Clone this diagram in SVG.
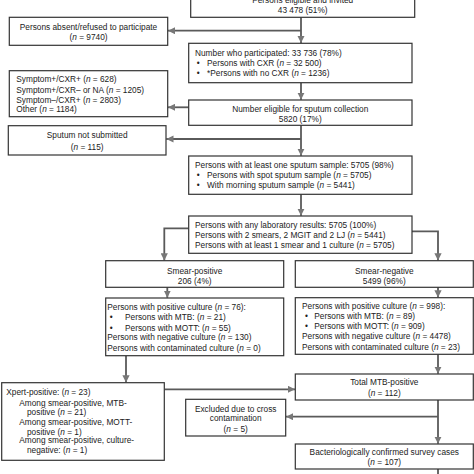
<svg xmlns="http://www.w3.org/2000/svg" width="474" height="474" viewBox="0 0 474 474">
<defs>
<style>
.box{fill:#fff;stroke:#333;stroke-width:1.2}
.t{font-family:"Liberation Sans",Arial,sans-serif;font-size:8.3px;fill:#222}
.c{text-anchor:middle}
.ln{fill:none;stroke:#5a5a5a;stroke-width:1.8}
</style>
<marker id="ah" viewBox="0 0 6 6" refX="6" refY="3" markerWidth="4" markerHeight="4" orient="auto">
<path d="M0,0 L6,3 L0,6 z" fill="#777"/>
</marker>
</defs>
<rect width="474" height="474" fill="#fff"/>
<g id="connectors">
<path class="ln" d="M301,17.3 V43" marker-end="url(#ah)"/>
<path class="ln" d="M301,30.7 H168" marker-end="url(#ah)"/>
<path class="ln" d="M301,82.7 V99.7" marker-end="url(#ah)"/>
<path class="ln" d="M188.7,107.3 H168" marker-end="url(#ah)"/>
<path class="ln" d="M301,125.3 V155.7" marker-end="url(#ah)"/>
<path class="ln" d="M301,139 H166.3" marker-end="url(#ah)"/>
<path class="ln" d="M301,194.3 V215.7" marker-end="url(#ah)"/>
<path class="ln" d="M188.7,228.3 H164.3 V260.5" marker-end="url(#ah)"/>
<path class="ln" d="M412,231.3 H438 V260.5" marker-end="url(#ah)"/>
<path class="ln" d="M167.3,287.3 V297.7" marker-end="url(#ah)"/>
<path class="ln" d="M438,287.3 V297.5" marker-end="url(#ah)"/>
<path class="ln" d="M126,355.7 V382.5" marker-end="url(#ah)"/>
<path class="ln" d="M438,354.3 V373.8" marker-end="url(#ah)"/>
<path class="ln" d="M164.3,389.3 H295" marker-end="url(#ah)"/>
<path class="ln" d="M438,400 V443.8" marker-end="url(#ah)"/>
<path class="ln" d="M438,416.7 H286" marker-end="url(#ah)"/>
<path class="ln" d="M438,469 V474"/>
</g>
<g id="n-eligible">
<rect class="box" x="190.7" y="-20" width="224" height="37.3"/>
<text class="t c" x="302.7" y="2.5">Persons eligible and invited</text>
<text class="t c" x="302.7" y="12.5">43 478 (51%)</text>
</g>
<g id="n-absent">
<rect class="box" x="9.3" y="17.3" width="158.4" height="28"/>
<text class="t c" x="88.5" y="29.5">Persons absent/refused to participate</text>
<text class="t c" x="88.5" y="39.5">(<tspan font-style="italic">n</tspan> = 9740)</text>
</g>
<g id="n-participated">
<rect class="box" x="188.7" y="43.3" width="223.3" height="39.4"/>
<text class="t" x="195" y="55.6">Number who participated: 33 736 (78%)</text>
<text class="t" x="196.7" y="66">•</text>
<text class="t" x="207" y="66">Persons with CXR (<tspan font-style="italic">n</tspan> = 32 500)</text>
<text class="t" x="196.7" y="76.3">•</text>
<text class="t" x="207" y="76.3">*Persons with no CXR (<tspan font-style="italic">n</tspan> = 1236)</text>
</g>
<g id="n-symptom">
<rect class="box" x="9.3" y="70.7" width="158.4" height="46"/>
<text class="t" x="16.3" y="82">Symptom+/CXR+ (<tspan font-style="italic">n</tspan> = 628)</text>
<text class="t" x="16.3" y="92.6">Symptom+/CXR– or NA (<tspan font-style="italic">n</tspan> = 1205)</text>
<text class="t" x="16.3" y="102.6">Symptom–/CXR+ (<tspan font-style="italic">n</tspan> = 2803)</text>
<text class="t" x="16.3" y="112.3">Other (<tspan font-style="italic">n</tspan> = 1184)</text>
</g>
<g id="n-sputum-eligible">
<rect class="box" x="188.7" y="100" width="223.3" height="25.3"/>
<text class="t c" x="300.3" y="112">Number eligible for sputum collection</text>
<text class="t c" x="300.3" y="122.3">5820 (17%)</text>
</g>
<g id="n-not-submitted">
<rect class="box" x="8.3" y="125.7" width="157.7" height="29.3"/>
<text class="t c" x="87.2" y="138">Sputum not submitted</text>
<text class="t c" x="87.2" y="149.7">(<tspan font-style="italic">n</tspan> = 115)</text>
</g>
<g id="n-sample">
<rect class="box" x="188.7" y="156" width="223.3" height="38.3"/>
<text class="t" x="195" y="168">Persons with at least one sputum sample: 5705 (98%)</text>
<text class="t" x="196.7" y="178">•</text>
<text class="t" x="207" y="178">Persons with spot sputum sample (<tspan font-style="italic">n</tspan> = 5705)</text>
<text class="t" x="196.7" y="188">•</text>
<text class="t" x="207" y="188">With morning sputum sample (<tspan font-style="italic">n</tspan> = 5441)</text>
</g>
<g id="n-lab">
<rect class="box" x="188.7" y="216" width="223.3" height="37.3"/>
<text class="t" x="195" y="228.3">Persons with any laboratory results: 5705 (100%)</text>
<text class="t" x="195" y="238">Persons with 2 smears, 2 MGIT and 2 LJ (<tspan font-style="italic">n</tspan> = 5441)</text>
<text class="t" x="195" y="248">Persons with at least 1 smear and 1 culture (<tspan font-style="italic">n</tspan> = 5705)</text>
</g>
<g id="n-smear-pos">
<rect class="box" x="105.7" y="260.7" width="178" height="26.6"/>
<text class="t c" x="194.7" y="273.7">Smear-positive</text>
<text class="t c" x="194.7" y="283.7">206 (4%)</text>
</g>
<g id="n-smear-neg">
<rect class="box" x="295.3" y="260.7" width="178" height="26.6"/>
<text class="t c" x="384.3" y="273.7">Smear-negative</text>
<text class="t c" x="384.3" y="283.7">5499 (96%)</text>
</g>
<g id="n-pos-culture">
<rect class="box" x="105.7" y="298" width="178" height="57.7"/>
<text class="t" x="107.3" y="310.3">Persons with positive culture (<tspan font-style="italic">n</tspan> = 76):</text>
<text class="t" x="109.7" y="320.3">•</text>
<text class="t" x="125" y="320.3">Persons with MTB: (<tspan font-style="italic">n</tspan> = 21)</text>
<text class="t" x="109.7" y="331">•</text>
<text class="t" x="125" y="331">Persons with MOTT: (<tspan font-style="italic">n</tspan> = 55)</text>
<text class="t" x="107.3" y="340.3">Persons with negative culture (<tspan font-style="italic">n</tspan> = 130)</text>
<text class="t" x="107.3" y="351.3">Persons with contaminated culture (<tspan font-style="italic">n</tspan> = 0)</text>
</g>
<g id="n-neg-culture">
<rect class="box" x="295.3" y="297.7" width="178" height="56.6"/>
<text class="t" x="302" y="308.7">Persons with positive culture (<tspan font-style="italic">n</tspan> = 998):</text>
<text class="t" x="305" y="319">•</text>
<text class="t" x="314.3" y="319">Persons with MTB: (<tspan font-style="italic">n</tspan> = 89)</text>
<text class="t" x="305" y="328.7">•</text>
<text class="t" x="314.3" y="328.7">Persons with MOTT: (<tspan font-style="italic">n</tspan> = 909)</text>
<text class="t" x="302" y="339">Persons with negative culture (<tspan font-style="italic">n</tspan> = 4478)</text>
<text class="t" x="302" y="349.7">Persons with contaminated culture (<tspan font-style="italic">n</tspan> = 23)</text>
</g>
<g id="n-xpert">
<rect class="box" x="1.7" y="382.7" width="162.6" height="77.6"/>
<text class="t" x="6.3" y="395">Xpert-positive: (<tspan font-style="italic">n</tspan> = 23)</text>
<text class="t" x="19.3" y="405.7">Among smear-positive, MTB-</text>
<text class="t" x="27" y="415.3">positive (<tspan font-style="italic">n</tspan> = 21)</text>
<text class="t" x="19.3" y="425.3">Among smear-positive, MOTT-</text>
<text class="t" x="27" y="434.7">positive (<tspan font-style="italic">n</tspan> = 1)</text>
<text class="t" x="19.3" y="443.3">Among smear-positive, culture-</text>
<text class="t" x="27" y="453.3">negative: (<tspan font-style="italic">n</tspan> = 1)</text>
</g>
<g id="n-total-mtb">
<rect class="box" x="295.3" y="374" width="178" height="26"/>
<text class="t c" x="384.3" y="385.3">Total MTB-positive</text>
<text class="t c" x="384.3" y="396.3">(<tspan font-style="italic">n</tspan> = 112)</text>
</g>
<g id="n-excluded">
<rect class="box" x="185.7" y="399.3" width="100" height="36.7"/>
<text class="t c" x="235.7" y="411.7">Excluded due to cross</text>
<text class="t c" x="235.7" y="421.3">contamination</text>
<text class="t c" x="235.7" y="432.3">(<tspan font-style="italic">n</tspan> = 5)</text>
</g>
<g id="n-confirmed">
<rect class="box" x="295.3" y="444" width="178" height="25"/>
<text class="t c" x="384.3" y="454.7">Bacteriologically confirmed survey cases</text>
<text class="t c" x="384.3" y="464.7">(<tspan font-style="italic">n</tspan> = 107)</text>
</g>
</svg>
